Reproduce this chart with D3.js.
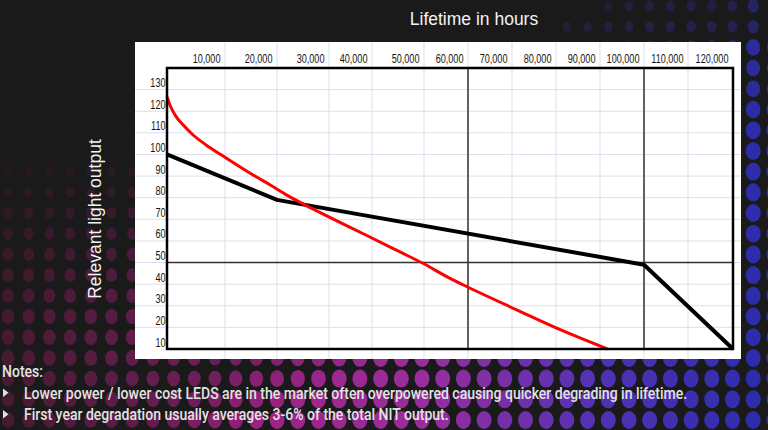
<!DOCTYPE html>
<meta charset='utf-8'>
<html>
  <style>
    body { margin: 0; background: #1b1a1b; }
    svg { display: block; }
    .tick-lab {
      font-family: "Liberation Sans", Arial, sans-serif;
      font-size: 13px;
      fill: #151515;
    }
    .title {
      font-family: "Liberation Sans", Arial, sans-serif;
      font-size: 17.5px;
      fill: #f2f2f2;
    }
    .note {
      font-family: Roboto, "Liberation Sans", Arial, sans-serif;
      font-weight: 500;
      font-size: 16px;
      fill: #e2e2e2;
    }
  </style>
  <head>
    <script src="https://cdn.jsdelivr.net/npm/d3@7/dist/d3.min.js" charset="utf-8"></script>
  </head>
  <body>
    <div id="chart"></div>
    <script type="text/javascript">
      // x axis (hours) and y axis (relative light output) tick values
      var hourTicks = [10000, 20000, 30000, 40000, 50000, 60000, 70000, 80000, 90000, 100000, 110000, 120000];
      var outputTicks = [10, 20, 30, 40, 50, 60, 70, 80, 90, 100, 110, 120, 130];

      // red curve: lower power / lower cost LEDs
      var redHours = [0, 500, 1400, 2800, 4500, 6800, 9400, 12300, 15400, 18700, 21900, 25100, 28900, 31000, 38800, 45400, 49600, 55900, 59800, 71200, 81100, 91700];
      var redOutput = [126.7, 122.9, 118.2, 113.6, 109.0, 104.3, 99.7, 95.1, 90.5, 85.9, 81.2, 77.0, 72.4, 70.1, 62.5, 54.9, 49.9, 42.7, 38.8, 28.0, 18.8, 10];

      // black line
      var blackHours = [0, 20000, 100000, 120000];
      var blackOutput = [100, 79, 49, 10];

      // reference lines (dark)
      var refHours = [60000, 100000];
      var refOutput = [50];

      var notes = [
        "Lower power / lower cost LEDS are in the market often overpowered causing quicker degrading in lifetime.",
        "First year degradation usually averages 3-6% of the total NIT output."
      ];

      var W = 768, H = 430;
      var panel = {left: 135, top: 42, right: 741, bottom: 359};
      var plot = {left: 167, top: 68, right: 733, bottom: 349};
      // spreadsheet column widths, one per 10,000 hours
      var colWidths = [58, 52, 52, 43, 52, 44, 44, 44, 44, 44, 44, 45];
      var narrow = 0.7;

      var colEdges = Array.from(d3.cumsum([0].concat(colWidths)), function(v){ return plot.left + v; });
      var x = d3.scaleLinear().domain([0].concat(hourTicks)).range(colEdges);
      var y = d3.scaleLinear().domain([10, 140]).range([plot.bottom, plot.top]);

      var svg = d3.select("#chart").append("svg")
        .attr("width", W)
        .attr("height", H);

      svg.append("rect").attr("width", W).attr("height", H).attr("fill", "#1b1a1b");

      // halftone dot background
      var dotCol = d3.scaleLinear()
        .domain([0, 260, 420, 600, 768])
        .range(["#5a1a36", "#a8238c", "#a52fa8", "#5534c2", "#2b2fb8"]);
      var dots = [];
      var step = 20.7;
      for (var j = 0; j * step < H + step; j++) {
        for (var i = 0; i * step < W + step; i++) {
          var cx = 8 + i * step, cy = 6 + j * step;
          var a = (cy - 150) / 230 + (cx - 330) / 380;
          if (cx > 735) a = Math.max(a, 0.85);
          if (cy < 40) a = a * 0.5;
          a = Math.max(0, Math.min(1, a));
          if (cx < 200) a = Math.max(a, Math.min(0.7, (cy - 160) / 240));
          if (a > 0.04) dots.push({cx: cx, cy: cy, a: a});
        }
      }
      svg.append("g").selectAll("ellipse").data(dots).enter().append("ellipse")
        .attr("cx", function(d){ return d.cx; })
        .attr("cy", function(d){ return d.cy; })
        .attr("rx", function(d){ return 4 + 3.5 * d.a; })
        .attr("ry", function(d){ return 5 + 4 * d.a; })
        .attr("fill", function(d){ return dotCol(d.cx); })
        .attr("opacity", function(d){ return 0.12 + 0.8 * d.a; });

      // white sheet
      svg.append("rect")
        .attr("x", panel.left).attr("y", panel.top)
        .attr("width", panel.right - panel.left)
        .attr("height", panel.bottom - panel.top)
        .attr("fill", "#fff");

      var grid = svg.append("g").attr("stroke", "#dcdfea").attr("stroke-width", 1);
      grid.selectAll(".vg").data(hourTicks.slice(0, -1)).enter().append("line")
        .attr("x1", function(d){ return x(d); }).attr("x2", function(d){ return x(d); })
        .attr("y1", panel.top).attr("y2", panel.bottom);
      grid.selectAll(".hg").data(outputTicks.slice(1)).enter().append("line")
        .attr("x1", panel.left).attr("x2", panel.right)
        .attr("y1", function(d){ return y(d); }).attr("y2", function(d){ return y(d); });

      // reference lines
      var refs = svg.append("g").attr("stroke", "#333").attr("stroke-width", 1.5);
      refs.selectAll(".rv").data(refHours).enter().append("line")
        .attr("x1", function(d){ return x(d); }).attr("x2", function(d){ return x(d); })
        .attr("y1", plot.top).attr("y2", plot.bottom);
      refs.selectAll(".rh").data(refOutput).enter().append("line")
        .attr("x1", plot.left).attr("x2", plot.right)
        .attr("y1", function(d){ return y(d); }).attr("y2", function(d){ return y(d); });

      // tick labels (spreadsheet style: right-aligned, bottom-aligned in their cell)
      svg.append("g").selectAll("text").data(hourTicks).enter().append("text")
        .attr("class", "tick-lab")
        .attr("transform", function(d){ return "translate(" + (x(d) - 4.5) + "," + (plot.top - 5) + ") scale(" + narrow + ",1)"; })
        .attr("text-anchor", "end")
        .text(d3.format(","));
      svg.append("g").selectAll("text").data(outputTicks).enter().append("text")
        .attr("class", "tick-lab")
        .attr("transform", function(d){ return "translate(" + (plot.left - 1.5) + "," + (y(d) - 2.5) + ") scale(" + narrow + ",1)"; })
        .attr("text-anchor", "end")
        .text(function(d){ return d; });

      // series
      var redData = redHours.map(function(h, k){ return [h, redOutput[k]]; });
      var blackData = blackHours.map(function(h, k){ return [h, blackOutput[k]]; });

      svg.append("path")
        .datum(blackData)
        .attr("fill", "none")
        .attr("stroke", "#000")
        .attr("stroke-width", 4)
        .attr("stroke-linejoin", "round")
        .attr("d", d3.line().x(function(d){ return x(d[0]); }).y(function(d){ return y(d[1]); }));

      svg.append("path")
        .datum(redData)
        .attr("fill", "none")
        .attr("stroke", "#ff0000")
        .attr("stroke-width", 3)
        .attr("d", d3.line().curve(d3.curveMonotoneX)
          .x(function(d){ return x(d[0]); }).y(function(d){ return y(d[1]); }));

      // plot frame
      svg.append("rect")
        .attr("x", plot.left).attr("y", plot.top)
        .attr("width", plot.right - plot.left)
        .attr("height", plot.bottom - plot.top)
        .attr("fill", "none")
        .attr("stroke", "#000")
        .attr("stroke-width", 2.5);

      // titles
      svg.append("text")
        .attr("class", "title")
        .attr("x", 474).attr("y", 25)
        .attr("text-anchor", "middle")
        .text("Lifetime in hours");

      svg.append("text")
        .attr("class", "title")
        .attr("transform", "translate(101,219) rotate(-90)")
        .attr("text-anchor", "middle")
        .text("Relevant light output");

      // notes: condensed to the width of the original lines
      var noteG = svg.append("g");
      var noteHead = noteG.append("text")
        .attr("class", "note")
        .attr("y", 377)
        .text("Notes:");
      var noteText = noteG.selectAll(".nl").data(notes).enter().append("text")
        .attr("class", "note")
        .attr("y", function(d, k){ return 399 + k * 21.5; })
        .text(function(d){ return d; });
      var k = 664 / noteText.node().getComputedTextLength();
      noteG.attr("transform", "scale(" + k + ",1)");
      noteHead.attr("x", 2 / k);
      noteText.attr("x", 24 / k);

      svg.append("g").selectAll("path").data(notes).enter().append("path")
        .attr("transform", function(d, i){ return "translate(0," + (399 + i * 21.5) + ")"; })
        .attr("d", "M3,-10.5L8.5,-6.3L3,-2Z")
        .attr("fill", "#e2e2e2");
    </script>
  </body>
</html>
